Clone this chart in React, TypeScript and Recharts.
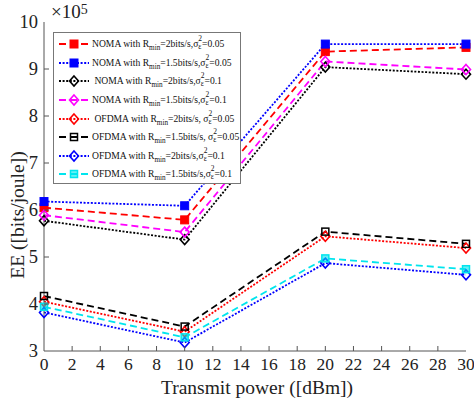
import React from "react";
import { LineChart, Line, XAxis, YAxis, Legend } from "recharts";

const powers = [0, 10, 20, 30];
const nomaR2e05 = [6.05, 5.79, 9.37, 9.46];
const nomaR15e05 = [6.18, 6.09, 9.53, 9.53];
const nomaR2e1 = [5.77, 5.37, 9.04, 8.89];
const nomaR15e1 = [5.89, 5.53, 9.16, 8.99];
const ofdmaR2e05 = [4.05, 3.41, 5.44, 5.19];
const ofdmaR15e05 = [4.17, 3.52, 5.54, 5.28];
const ofdmaR2e1 = [3.82, 3.18, 4.87, 4.62];
const ofdmaR15e1 = [3.94, 3.29, 4.97, 4.74];

const xTicks = [0, 2, 4, 6, 8, 10, 12, 14, 16, 18, 20, 22, 24, 26, 28, 30];
const yTicks = [3, 4, 5, 6, 7, 8, 9, 10];

const FONT = "'Times New Roman', Times, 'Liberation Serif', serif";
const AXIS = "#555";

type Marker = "fsquare" | "square" | "diamond";

type Series = {
    key: string;
    scheme: string;
    rate: string;
    sigma: string;
    sep: string;
    color: string;
    dash: string;
    marker: Marker;
    values: number[];
};

const DASHED = "7 4";
const DOTTED = "2 1.6";

const series: Series[] = [
    { key: "s1", scheme: "NOMA", rate: "2bits/s", sigma: "0.05", sep: ",", color: "#ff0000", dash: DASHED, marker: "fsquare", values: nomaR2e05 },
    { key: "s2", scheme: "NOMA", rate: "1.5bits/s", sigma: "0.05", sep: ",", color: "#0000ff", dash: DOTTED, marker: "fsquare", values: nomaR15e05 },
    { key: "s3", scheme: "\u00a0NOMA", rate: "2bits/s", sigma: "0.1", sep: ",", color: "#000000", dash: DOTTED, marker: "diamond", values: nomaR2e1 },
    { key: "s4", scheme: "NOMA", rate: "1.5bits/s", sigma: "0.1", sep: ",", color: "#ff00ff", dash: DASHED, marker: "diamond", values: nomaR15e1 },
    { key: "s5", scheme: "\u00a0OFDMA", rate: "2bits/s", sigma: "0.05", sep: ", ", color: "#ff0000", dash: DOTTED, marker: "diamond", values: ofdmaR2e05 },
    { key: "s6", scheme: "OFDMA", rate: "1.5bits/s", sigma: "0.05", sep: ", ", color: "#000000", dash: DASHED, marker: "square", values: ofdmaR15e05 },
    { key: "s7", scheme: "OFDMA", rate: "2bits/s", sigma: "0.1", sep: ",", color: "#0000ff", dash: DOTTED, marker: "diamond", values: ofdmaR2e1 },
    { key: "s8", scheme: "OFDMA", rate: "1.5bits/s", sigma: "0.1", sep: ",", color: "#00e5ee", dash: DASHED, marker: "square", values: ofdmaR15e1 },
];

const data = powers.map((p, i) => {
    const row: Record<string, number> = { power: p };
    series.forEach((s) => {
        row[s.key] = s.values[i];
    });
    return row;
});

function MarkerShape({ cx, cy, color, marker }: { cx: number; cy: number; color: string; marker: Marker }) {
    if (marker === "fsquare") {
        return <rect x={cx - 4} y={cy - 4} width={8} height={8} fill={color} stroke={color} strokeWidth={1} />;
    }
    if (marker === "square") {
        return <rect x={cx - 3.5} y={cy - 3.5} width={7} height={7} fill={color === "#000000" ? "none" : color} fillOpacity={color === "#000000" ? 0 : 0.6} stroke={color} strokeWidth={1.5} />;
    }
    return (
        <polygon
            points={`${cx},${cy - 5} ${cx + 4.5},${cy} ${cx},${cy + 5} ${cx - 4.5},${cy}`}
            fill="none"
            stroke={color}
            strokeWidth={1.6}
        />
    );
}

function makeDot(s: Series) {
    return (props: any) => (
        <MarkerShape key={`${s.key}-${props.index}`} cx={props.cx} cy={props.cy} color={s.color} marker={s.marker} />
    );
}

function LeftTick(props: any) {
    const { x, y, payload } = props;
    return (
        <g>
            <text x={x} y={y} textAnchor="end" dominantBaseline="central" fontFamily={FONT} fontSize={18.5} fill="#222">
                {payload.value}
            </text>
            {payload.value !== 3 && payload.value !== 10 && (
                <line x1={x + 6} x2={x + 11} y1={y} y2={y} stroke={AXIS} />
            )}
        </g>
    );
}

function RightTick(props: any) {
    const { x, y, payload } = props;
    if (payload.value === 3 || payload.value === 10) return <g />;
    return <line x1={x} x2={x - 5} y1={y} y2={y} stroke={AXIS} />;
}

function BottomTick(props: any) {
    const { x, y, payload } = props;
    return (
        <g>
            <text x={x} y={y} textAnchor="middle" dy="0.71em" fontFamily={FONT} fontSize={17.5} fill="#222">
                {payload.value}
            </text>
            {payload.value !== 0 && payload.value !== 30 && (
                <line x1={x} x2={x} y1={y - 7} y2={y - 12} stroke={AXIS} />
            )}
        </g>
    );
}

function TopTick(props: any) {
    const { x, y, payload } = props;
    if (payload.value === 0 || payload.value === 30) return <g />;
    return <line x1={x} x2={x} y1={y} y2={y + 5} stroke={AXIS} />;
}

function LegendBox() {
    return (
        <div
            style={{
                width: 188,
                height: 152,
                boxSizing: "border-box",
                border: "1px solid #777",
                background: "#fff",
                padding: "2px 0 0 4px",
                fontFamily: FONT,
                fontSize: 9.6,
                color: "#111",
            }}
        >
            {series.map((s) => (
                <div key={s.key} style={{ display: "flex", alignItems: "center", height: 18.6, whiteSpace: "nowrap" }}>
                    <svg width={32} height={14} style={{ flex: "none", marginRight: 2 }}>
                        <line x1={1} x2={31} y1={7} y2={7} stroke={s.color} strokeWidth={1.8} strokeDasharray={s.dash} />
                        <MarkerShape cx={16} cy={7} color={s.color} marker={s.marker} />
                    </svg>
                    <span style={{ display: "flex", alignItems: "center", lineHeight: "12px" }}>
                        <span>{s.scheme} with R</span>
                        <span style={{ fontSize: 7.2, position: "relative", top: 4 }}>min</span>
                        <span>={s.rate}{s.sep}σ</span>
                        <span style={{ display: "flex", flexDirection: "column", fontSize: 7.5, lineHeight: "8px", marginTop: -2 }}>
                            <span>2</span>
                            <span>ε</span>
                        </span>
                        <span>={s.sigma}</span>
                    </span>
                </div>
            ))}
        </div>
    );
}

export default function App() {
    return (
        <div style={{ position: "absolute", left: 0, top: 0, width: 474, height: 399, background: "#fff" }}>
            <LineChart width={474} height={399} data={data} margin={{ top: 22, right: 8, bottom: 0, left: 0 }}>
                <XAxis
                    dataKey="power"
                    type="number"
                    domain={[0, 30]}
                    ticks={xTicks}
                    interval={0}
                    height={48}
                    tickSize={0}
                    tickMargin={7}
                    tickLine={false}
                    tick={<BottomTick />}
                    stroke={AXIS}
                />
                <XAxis
                    xAxisId="top"
                    orientation="top"
                    type="number"
                    domain={[0, 30]}
                    ticks={xTicks}
                    interval={0}
                    height={0}
                    tickSize={0}
                    tickMargin={0}
                    tickLine={false}
                    tick={<TopTick />}
                    stroke={AXIS}
                />
                <YAxis
                    type="number"
                    domain={[3, 10]}
                    ticks={yTicks}
                    interval={0}
                    width={44}
                    tickSize={0}
                    tickMargin={6}
                    tickLine={false}
                    tick={<LeftTick />}
                    stroke={AXIS}
                />
                <YAxis
                    yAxisId="right"
                    orientation="right"
                    type="number"
                    domain={[3, 10]}
                    ticks={yTicks}
                    interval={0}
                    width={0}
                    tickSize={0}
                    tickMargin={0}
                    tickLine={false}
                    tick={<RightTick />}
                    stroke={AXIS}
                />
                <Legend
                    layout="vertical"
                    align="center"
                    verticalAlign="middle"
                    content={() => <LegendBox />}
                    wrapperStyle={{ left: 53, top: 32, width: 188 }}
                />
                {series.map((s) => (
                    <Line
                        key={s.key}
                        dataKey={s.key}
                        type="linear"
                        stroke={s.color}
                        strokeWidth={1.8}
                        strokeDasharray={s.dash}
                        dot={makeDot(s)}
                        activeDot={false}
                        isAnimationActive={false}
                    />
                ))}
            </LineChart>
            <div style={{ position: "absolute", left: 51, top: 2, fontFamily: FONT, fontSize: 19, lineHeight: "20px", color: "#222", whiteSpace: "nowrap" }}>
                ×10<sup style={{ fontSize: 14, verticalAlign: "top", position: "relative", top: -2 }}>5</sup>
            </div>
            <div
                style={{
                    position: "absolute",
                    left: 18,
                    top: 215,
                    transform: "translate(-50%, -50%) rotate(-90deg)",
                    fontFamily: FONT,
                    fontSize: 19.5,
                    color: "#222",
                    whiteSpace: "nowrap",
                }}
            >
                EE ([bits/joule])
            </div>
            <div
                style={{
                    position: "absolute",
                    left: 257,
                    top: 387,
                    transform: "translate(-50%, -50%)",
                    fontFamily: FONT,
                    fontSize: 19.5,
                    lineHeight: "19px",
                    color: "#222",
                    whiteSpace: "nowrap",
                }}
            >
                Transmit power ([dBm])
            </div>
        </div>
    );
}
